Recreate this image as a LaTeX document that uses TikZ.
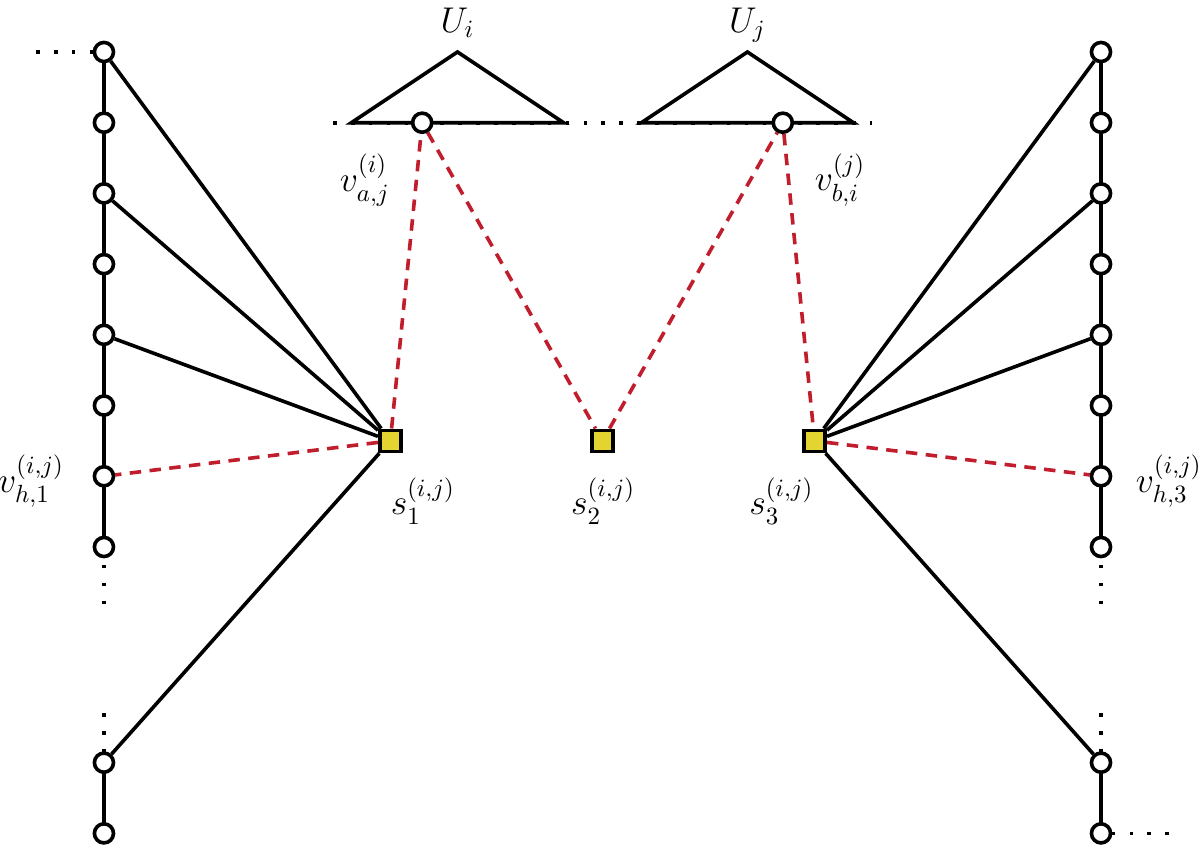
\documentclass[tikz,border=0pt]{standalone}
\usepackage{amsmath}
\usepackage{amssymb}
\usepackage{xcolor}
\usepackage{tikz}
\usetikzlibrary{
	calc,
	backgrounds
}
\definecolor{DarkRed}{RGB}{192,30,45}
\definecolor{SepYellow}{RGB}{228,212,50}

\begin{document}
\begin{tikzpicture}[line width=1.45pt, font=\Large,
		vtx/.style={circle, draw, fill=white, inner sep=0pt, minimum size=0.27cm},
		sepv/.style={rectangle, draw, fill=SepYellow, inner sep=0pt, minimum size=0.3cm},
		fixed/.style={DarkRed, dash pattern=on 4.6pt off 3.4pt},
		gap/.style={dash pattern=on 1.45pt off 5.75pt}]
	\useasboundingbox (-1.47,-11.23) rectangle (15.5,0.735);
	% the two paths
	\foreach \k/\y in {1/0,2/-1,3/-2,4/-3,5/-4,6/-5,7/-6,8/-7,9/-10.05,10/-11.05} {
		\node[vtx] (L\k) at (0,\y) {};
		\node[vtx] (R\k) at (14.1,\y) {};
	}
	\coordinate (Ai) at (5,0);
	\coordinate (Aj) at (9.1,0);
	\node[vtx] (va) at (4.5,-1) {};
	\node[vtx] (vb) at (9.6,-1) {};
	\node[sepv] (s1) at (4.05,-5.5) {};
	\node[sepv] (s2) at (7.05,-5.5) {};
	\node[sepv] (s3) at (10.05,-5.5) {};
	\node (lUi) [anchor=base] at (5,0.28) {$U_i$};
	\node (lUj) [anchor=base] at (9.1,0.28) {$U_j$};
	\node (lva) at (3.69,-1.81) {$v_{a,j}^{(i)}$};
	\node (lvb) at (10.41,-1.81) {$v_{b,i}^{(j)}$};
	\node (lh1) at (-1.03,-6.07) {$v_{h,1}^{(i,j)}$};
	\node (lh3) at (15.06,-6.07) {$v_{h,3}^{(i,j)}$};
	\node (ls1) at (4.51,-6.35) {$s_1^{(i,j)}$};
	\node (ls2) at (7.06,-6.35) {$s_2^{(i,j)}$};
	\node (ls3) at (9.58,-6.35) {$s_3^{(i,j)}$};
	\begin{scope}[on background layer={line width=1.45pt}]
		\draw[gap] (3.24,-1) -- (10.86,-1);
		\draw (3.5,-1) -- (Ai) -- (6.5,-1) -- cycle;
		\draw (7.6,-1) -- (Aj) -- (10.6,-1) -- cycle;
		\draw (L1.center) -- (L8.center);
		\draw (R1.center) -- (R8.center);
		\draw (L9.center) -- (L10.center);
		\draw (R9.center) -- (R10.center);
		\draw[gap] (-0.96,0) -- (L1.center);
		\draw[gap] (L8.center) -- (0,-7.8);
		\draw[gap] (0,-9.35) -- (L9.center);
		\draw[gap] (R8.center) -- (14.1,-7.8);
		\draw[gap] (14.1,-9.35) -- (R9.center);
		\draw[gap] (15.06,-11.05) -- (R10.center);
		\foreach \k in {1,3,5,9} {
			\draw (s1) -- (L\k);
			\draw (s3) -- (R\k);
		}
		\draw[fixed] (s1) -- (L7);
		\draw[fixed] (s3) -- (R7);
		\draw[fixed] (s1) -- (va) -- (s2) -- (vb) -- (s3);
	\end{scope}
\end{tikzpicture}
\end{document}
